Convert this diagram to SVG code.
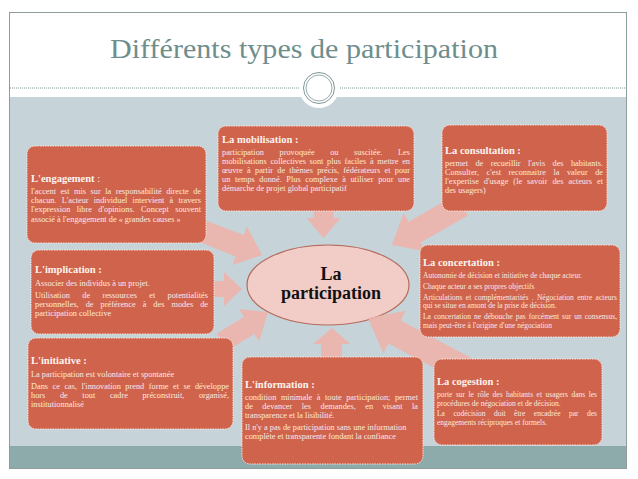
<svg xmlns="http://www.w3.org/2000/svg" width="638" height="479" viewBox="0 0 638 479">
<style>
.box{fill:#D0634B;stroke:#F6E4DE;stroke-width:1;stroke-dasharray:1.5 1}
.h{font-family:"Liberation Serif",serif;font-weight:bold;font-size:10.5px;fill:#FFF4EF}
.b{font-family:"Liberation Serif",serif;font-size:8.3px;fill:#FBE9E3}
.s{font-family:"Liberation Serif",serif;font-size:7.5px;fill:#FBE9E3}
.arr{fill:#EDB3AC;opacity:0.92}
.c{font-family:"Liberation Serif",serif;font-weight:bold;font-size:18px;fill:#111111}
</style>
<rect x="0" y="0" width="638" height="479" fill="#FFFFFF"/>
<rect x="9.5" y="12.5" width="617" height="456" fill="#FFFFFF" stroke="#8E9C9C" stroke-width="1"/>
<rect x="10" y="97" width="616" height="349" fill="#C6D3D9"/>
<rect x="10" y="446" width="616" height="22" fill="#8CABAA"/>
<text x="304" y="58" text-anchor="middle" textLength="388" lengthAdjust="spacingAndGlyphs" font-family="Liberation Serif, serif" font-size="28" fill="#6E8E8D">Différents types de participation</text>
<line x1="10" y1="88" x2="627" y2="88" stroke="#7F9696" stroke-width="1" stroke-dasharray="1 1"/>
<circle cx="319" cy="88" r="20" fill="#FFFFFF"/>
<circle cx="319" cy="88" r="15.5" fill="#FFFFFF" stroke="#7F9696" stroke-width="1"/>
<circle cx="319" cy="88" r="13" fill="#FFFFFF" stroke="#7F9696" stroke-width="0.8"/>

<g id="participation">
<ellipse cx="328" cy="285" rx="81" ry="40" fill="#F2CDC8" stroke="#B56B5C" stroke-width="1.2"/>
<text class="c" x="331" y="280" text-anchor="middle">La</text>
<text class="c" x="331" y="299" text-anchor="middle">participation</text>
</g>

<g id="connectors">
<polygon class="arr" points="206,220.7 243.6,235 246.8,226.7 262,255 232.4,264.9 235.6,256.6 198,241.3"/>
<polygon class="arr" points="210,281 224,281 224,272 242,289 224,306 224,297 210,297"/>
<polygon class="arr" points="216.8,333.5 244,316.9 239.3,309.2 268,312 259.1,341.6 254.4,333.9 227.2,350.5"/>
<polygon class="arr" points="313.5,208 333.5,208 333.5,218 340.5,218 323.5,238 306.5,218 313.5,218"/>
<polygon class="arr" points="321,360 321,344 313,344 332,328 350,344 342,344 342,360"/>
<polygon class="arr" points="468,215.4 420.6,242.5 425.5,251.2 392,245 403.7,213 408.6,221.7 456,194.6"/>
<polygon class="arr" points="476.1,360.5 400.6,320.5 405.7,310.8 368,318 383.3,353.2 388.4,343.5 463.9,383.5"/>
</g>

<g id="engagement">
<rect class="box" x="27" y="146" width="179" height="97" rx="8"/>
<text class="h" x="31" y="182">L'engagement<tspan font-weight="normal"> :</tspan></text>
<text class="b" x="31" y="194" word-spacing="2.4" textLength="170" lengthAdjust="spacing">l'accent est mis sur la responsabilité directe de</text>
<text class="b" x="31" y="203.2" word-spacing="3.1" textLength="170" lengthAdjust="spacing">chacun. L'acteur individuel intervient à travers</text>
<text class="b" x="31" y="212.4" word-spacing="4.3" textLength="170" lengthAdjust="spacing">l'expression libre d'opinions. Concept souvent</text>
<text class="b" x="31" y="221.6">associé à l'engagement de « grandes causes »</text>
</g>

<g id="implication">
<rect class="box" x="31" y="250" width="183" height="84" rx="8"/>
<text class="h" x="35" y="273">L'implication :</text>
<text class="b" x="35" y="286">Associer des individus à un projet.</text>
<text class="b" x="35" y="298" word-spacing="10.3" textLength="173" lengthAdjust="spacing">Utilisation de ressources et potentialités</text>
<text class="b" x="35" y="307.2" word-spacing="4.9" textLength="173" lengthAdjust="spacing">personnelles, de préférence à des modes de</text>
<text class="b" x="35" y="316.4">participation collective</text>
</g>

<g id="initiative">
<rect class="box" x="28" y="338" width="205" height="91" rx="8"/>
<text class="h" x="31" y="364">L'initiative :</text>
<text class="b" x="31" y="377">La participation est volontaire et spontanée</text>
<text class="b" x="31" y="389" word-spacing="2.4" textLength="198" lengthAdjust="spacing">Dans ce cas, l'innovation prend forme et se développe</text>
<text class="b" x="31" y="398.2" word-spacing="12.5" textLength="198" lengthAdjust="spacing">hors de tout cadre préconstruit, organisé,</text>
<text class="b" x="31" y="407.4">institutionnalisé</text>
</g>

<g id="mobilisation">
<rect class="box" x="218" y="126" width="196" height="85" rx="8"/>
<text class="h" x="222" y="143">La mobilisation :</text>
<text class="b" x="222" y="154.5" word-spacing="13.5" textLength="188" lengthAdjust="spacing">participation provoquée ou suscitée. Les</text>
<text class="b" x="222" y="163.7" word-spacing="1.6" textLength="188" lengthAdjust="spacing">mobilisations collectives sont plus faciles à mettre en</text>
<text class="b" x="222" y="172.9" word-spacing="2.2" textLength="188" lengthAdjust="spacing">œuvre à partir de thèmes précis, fédérateurs et pour</text>
<text class="b" x="222" y="182.1" word-spacing="2.5" textLength="188" lengthAdjust="spacing">un temps donné. Plus complexe à utiliser pour une</text>
<text class="b" x="222" y="191.3">démarche de projet global participatif</text>
</g>

<g id="consultation">
<rect class="box" x="442" y="125" width="165" height="86" rx="8"/>
<text class="h" x="445" y="154">La consultation :</text>
<text class="b" x="445" y="165.5" word-spacing="5.3" textLength="158" lengthAdjust="spacing">permet de recueillir l'avis des habitants.</text>
<text class="b" x="445" y="174.7" word-spacing="5.4" textLength="158" lengthAdjust="spacing">Consulter, c'est reconnaitre la valeur de</text>
<text class="b" x="445" y="183.9" word-spacing="2.9" textLength="158" lengthAdjust="spacing">l'expertise d'usage (le savoir des acteurs et</text>
<text class="b" x="445" y="193.1">des usagers)</text>
</g>

<g id="concertation">
<rect class="box" x="420" y="245" width="200" height="92" rx="8"/>
<text class="h" x="423" y="266">La concertation :</text>
<text class="s" x="423" y="277.5">Autonomie de décision et initiative de chaque acteur.</text>
<text class="s" x="423" y="288.5">Chaque acteur a ses propres objectifs</text>
<text class="s" x="423" y="299.5" word-spacing="1.4" textLength="194" lengthAdjust="spacing">Articulations et complémentarités . Négociation entre acteurs</text>
<text class="s" x="423" y="308.1">qui se situe en amont de la prise de décision.</text>
<text class="s" x="423" y="319.1" word-spacing="1.1" textLength="194" lengthAdjust="spacing">La concertation ne débouche pas forcément sur un consensus,</text>
<text class="s" x="423" y="327.7">mais peut-être à l'origine d'une négociation</text>
</g>

<g id="cogestion">
<rect class="box" x="434" y="359" width="168" height="86" rx="8"/>
<text class="h" x="437" y="385">La cogestion :</text>
<text class="s" x="437" y="397" word-spacing="1.6" textLength="160" lengthAdjust="spacing">porte sur le rôle des habitants et usagers dans les</text>
<text class="s" x="437" y="405.6">procédures de négociation et de décision.</text>
<text class="s" x="437" y="416" word-spacing="6.6" textLength="160" lengthAdjust="spacing">La codécision doit être encadrée par des</text>
<text class="s" x="437" y="424.6">engagements réciproques et formels.</text>
</g>

<g id="information">
<rect class="box" x="242" y="357" width="181" height="107" rx="8"/>
<text class="h" x="245" y="388">L'information :</text>
<text class="b" x="245" y="400" word-spacing="2.5" textLength="173" lengthAdjust="spacing">condition minimale à toute participation; permet</text>
<text class="b" x="245" y="409.2" word-spacing="7.4" textLength="173" lengthAdjust="spacing">de devancer les demandes, en visant la</text>
<text class="b" x="245" y="418.4">transparence et la lisibilité.</text>
<text class="b" x="245" y="430">Il n'y a pas de participation sans une information</text>
<text class="b" x="245" y="439.2">complète et transparente fondant la confiance</text>
</g>
</svg>
